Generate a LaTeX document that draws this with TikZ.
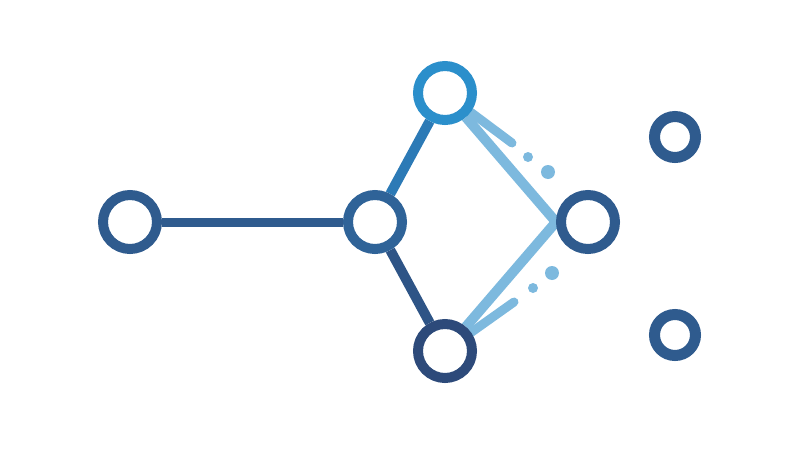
\documentclass[tikz,border=0pt]{standalone}
\usetikzlibrary{backgrounds}
\definecolor{ringdark}{HTML}{2F5B8E}
\definecolor{ringmid}{HTML}{2F6398}
\definecolor{ringnavy}{HTML}{2D4A7A}
\definecolor{ringbright}{HTML}{2B8FCB}
\definecolor{linkup}{HTML}{2C7AB6}
\definecolor{linkdown}{HTML}{2E5486}
\definecolor{linklight}{HTML}{7DB9DE}
\tikzset{
  bigring/.style={circle, draw=#1, line width=5pt, fill=white, minimum size=27pt, inner sep=0pt},
  smallring/.style={circle, draw=ringdark, line width=5.5pt, fill=white, minimum size=20.5pt, inner sep=0pt},
  lightlink/.style={linklight, line width=5pt, line join=round},
  dashlink/.style={linklight, line width=4.5pt, line cap=round},
  dotmark/.style={circle, fill=linklight, inner sep=0pt, minimum size=#1},
}
\begin{document}
\begin{tikzpicture}[x=0.5pt, y=-0.5pt]
   \useasboundingbox (0,0) rectangle (800,450);

   \node[bigring=ringdark] at (130, 222) (start) {};
   \node[bigring=ringmid] at (375, 222) (hub) {};
   \node[bigring=ringbright] at (445, 93) (top) {};
   \node[bigring=ringnavy] at (445, 351) (bot) {};
   \node[bigring=ringdark] at (588, 222) (tip) {};

   \node[smallring] at (675, 137) (outa) {};
   \node[smallring] at (675, 335) (outb) {};

   \coordinate (tdash) at (512, 143);
   \coordinate (bdash) at (514, 302);

   \node[dotmark=5pt] at (528, 157) (tdota) {};
   \node[dotmark=7pt] at (548, 172) (tdotb) {};
   \node[dotmark=5pt] at (533, 288) (bdota) {};
   \node[dotmark=7pt] at (552, 273) (bdotb) {};

%Links under the rings
   \begin{pgfonlayer}{background}
     \draw[ringdark, line width=4.5pt] (start) -- (hub);
     \draw[linkup, line width=5pt] (hub) -- (top);
     \draw[linkdown, line width=5pt] (hub) -- (bot);

     \draw[lightlink] (top) -- (tip.west) -- (bot);
     \draw[dashlink] (top) -- (tdash);
     \draw[dashlink] (bot) -- (bdash);
   \end{pgfonlayer}

\end{tikzpicture}
\end{document}
